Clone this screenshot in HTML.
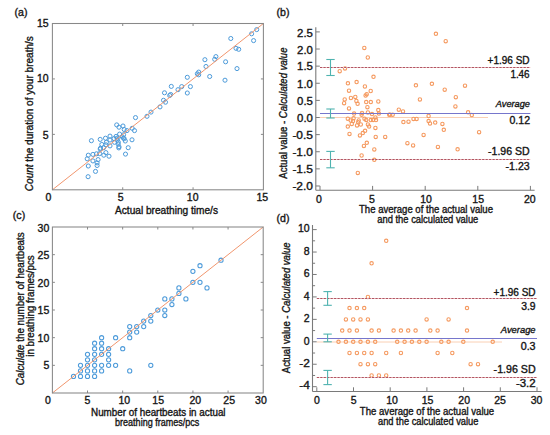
<!DOCTYPE html>
<html><head><meta charset="utf-8"><title>Figure</title>
<style>
html,body{margin:0;padding:0;background:#fff;}
body{width:550px;height:435px;overflow:hidden;}
svg{display:block;font-family:"Liberation Sans", sans-serif;}
text{stroke:#151515;stroke-width:0.35px;}
</style></head>
<body>
<svg width="550" height="435" viewBox="0 0 550 435" fill="#151515">
<rect width="550" height="435" fill="#ffffff"/>
<text x="21.00" y="16.00" font-size="10.6" text-anchor="middle">(a)</text>
<g fill="none" stroke="#4d9bda" stroke-width="1.0">
<circle cx="256.7" cy="29.6" r="2.05"/>
<circle cx="251.6" cy="33.8" r="2.05"/>
<circle cx="253.6" cy="40.6" r="2.05"/>
<circle cx="230.8" cy="38.5" r="2.05"/>
<circle cx="236.0" cy="48.3" r="2.05"/>
<circle cx="238.7" cy="49.3" r="2.05"/>
<circle cx="215.9" cy="56.6" r="2.05"/>
<circle cx="214.7" cy="59.3" r="2.05"/>
<circle cx="204.9" cy="59.7" r="2.05"/>
<circle cx="225.6" cy="61.8" r="2.05"/>
<circle cx="206.0" cy="66.5" r="2.05"/>
<circle cx="237.0" cy="68.6" r="2.05"/>
<circle cx="197.3" cy="73.8" r="2.05"/>
<circle cx="198.7" cy="72.1" r="2.05"/>
<circle cx="198.7" cy="74.8" r="2.05"/>
<circle cx="209.7" cy="76.5" r="2.05"/>
<circle cx="225.0" cy="80.2" r="2.05"/>
<circle cx="187.3" cy="77.3" r="2.05"/>
<circle cx="171.3" cy="86.4" r="2.05"/>
<circle cx="181.7" cy="86.6" r="2.05"/>
<circle cx="190.4" cy="86.6" r="2.05"/>
<circle cx="178.0" cy="89.7" r="2.05"/>
<circle cx="187.3" cy="93.0" r="2.05"/>
<circle cx="164.5" cy="92.8" r="2.05"/>
<circle cx="169.7" cy="95.5" r="2.05"/>
<circle cx="170.7" cy="94.5" r="2.05"/>
<circle cx="163.5" cy="100.3" r="2.05"/>
<circle cx="165.5" cy="102.2" r="2.05"/>
<circle cx="160.0" cy="106.9" r="2.05"/>
<circle cx="151.0" cy="112.1" r="2.05"/>
<circle cx="147.0" cy="116.3" r="2.05"/>
<circle cx="135.5" cy="117.6" r="2.05"/>
<circle cx="132.2" cy="128.3" r="2.05"/>
<circle cx="134.5" cy="130.6" r="2.05"/>
<circle cx="132.0" cy="139.8" r="2.05"/>
<circle cx="125.3" cy="141.0" r="2.05"/>
<circle cx="124.2" cy="138.7" r="2.05"/>
<circle cx="116.7" cy="124.9" r="2.05"/>
<circle cx="119.0" cy="127.2" r="2.05"/>
<circle cx="123.0" cy="126.0" r="2.05"/>
<circle cx="124.2" cy="129.5" r="2.05"/>
<circle cx="127.0" cy="130.6" r="2.05"/>
<circle cx="123.6" cy="134.7" r="2.05"/>
<circle cx="119.6" cy="134.1" r="2.05"/>
<circle cx="116.1" cy="136.4" r="2.05"/>
<circle cx="91.4" cy="140.7" r="2.05"/>
<circle cx="100.2" cy="139.4" r="2.05"/>
<circle cx="105.5" cy="138.2" r="2.05"/>
<circle cx="110.0" cy="136.1" r="2.05"/>
<circle cx="122.3" cy="136.8" r="2.05"/>
<circle cx="101.8" cy="144.5" r="2.05"/>
<circle cx="106.4" cy="142.3" r="2.05"/>
<circle cx="110.0" cy="140.0" r="2.05"/>
<circle cx="114.5" cy="142.3" r="2.05"/>
<circle cx="117.3" cy="140.0" r="2.05"/>
<circle cx="118.2" cy="144.1" r="2.05"/>
<circle cx="119.0" cy="146.8" r="2.05"/>
<circle cx="110.0" cy="145.9" r="2.05"/>
<circle cx="100.5" cy="148.2" r="2.05"/>
<circle cx="103.6" cy="147.7" r="2.05"/>
<circle cx="128.2" cy="147.7" r="2.05"/>
<circle cx="88.1" cy="176.7" r="2.05"/>
<circle cx="95.5" cy="171.4" r="2.05"/>
<circle cx="88.3" cy="166.0" r="2.05"/>
<circle cx="97.1" cy="165.5" r="2.05"/>
<circle cx="97.1" cy="162.9" r="2.05"/>
<circle cx="98.1" cy="159.6" r="2.05"/>
<circle cx="92.9" cy="160.9" r="2.05"/>
<circle cx="87.2" cy="158.8" r="2.05"/>
<circle cx="88.3" cy="155.2" r="2.05"/>
<circle cx="92.9" cy="154.4" r="2.05"/>
<circle cx="96.5" cy="153.8" r="2.05"/>
<circle cx="99.6" cy="153.6" r="2.05"/>
<circle cx="103.8" cy="155.2" r="2.05"/>
<circle cx="105.9" cy="152.6" r="2.05"/>
<circle cx="109.0" cy="156.2" r="2.05"/>
<circle cx="100.2" cy="149.0" r="2.05"/>
<circle cx="105.9" cy="144.8" r="2.05"/>
<circle cx="114.1" cy="138.6" r="2.05"/>
<circle cx="117.2" cy="138.1" r="2.05"/>
<circle cx="118.3" cy="142.2" r="2.05"/>
<circle cx="118.8" cy="147.9" r="2.05"/>
<circle cx="125.5" cy="154.1" r="2.05"/>
<circle cx="123.4" cy="138.1" r="2.05"/>
</g>
<line x1="52.40" y1="189.80" x2="263.40" y2="23.50" stroke="#f1966e" stroke-width="1.0"/>
<rect x="52.4" y="23.5" width="211.00" height="166.30" fill="none" stroke="#888" stroke-width="1.05"/>
<line x1="122.73" y1="189.80" x2="122.73" y2="187.30" stroke="#888" stroke-width="1.0"/>
<line x1="122.73" y1="23.50" x2="122.73" y2="26.00" stroke="#888" stroke-width="1.0"/>
<line x1="52.40" y1="134.37" x2="54.90" y2="134.37" stroke="#888" stroke-width="1.0"/>
<line x1="263.40" y1="134.37" x2="260.90" y2="134.37" stroke="#888" stroke-width="1.0"/>
<line x1="193.07" y1="189.80" x2="193.07" y2="187.30" stroke="#888" stroke-width="1.0"/>
<line x1="193.07" y1="23.50" x2="193.07" y2="26.00" stroke="#888" stroke-width="1.0"/>
<line x1="52.40" y1="78.93" x2="54.90" y2="78.93" stroke="#888" stroke-width="1.0"/>
<line x1="263.40" y1="78.93" x2="260.90" y2="78.93" stroke="#888" stroke-width="1.0"/>
<text x="48.30" y="201.20" font-size="10.5" text-anchor="middle">0</text>
<text x="120.70" y="201.20" font-size="10.5" text-anchor="middle">5</text>
<text x="192.70" y="201.20" font-size="10.5" text-anchor="middle">10</text>
<text x="262.30" y="201.20" font-size="10.5" text-anchor="middle">15</text>
<text x="48.60" y="26.60" font-size="10.5" text-anchor="end">15</text>
<text x="48.60" y="82.40" font-size="10.5" text-anchor="end">10</text>
<text x="48.60" y="138.60" font-size="10.5" text-anchor="end">5</text>
<text x="166.50" y="214.40" font-size="10" text-anchor="middle" textLength="103" lengthAdjust="spacingAndGlyphs">Actual breathing time/s</text>
<text x="33.40" y="113.70" font-size="10" text-anchor="middle" textLength="155" lengthAdjust="spacingAndGlyphs" transform="rotate(-90 33.40 113.70)"><tspan font-style="italic">Count</tspan> the duration of your breath/s</text>
<text x="19.00" y="219.40" font-size="10.6" text-anchor="middle">(c)</text>
<g fill="none" stroke="#4d9bda" stroke-width="1.05">
<circle cx="73.5" cy="376.4" r="2.1"/>
<circle cx="80.5" cy="376.4" r="2.1"/>
<circle cx="80.5" cy="370.9" r="2.1"/>
<circle cx="80.5" cy="365.3" r="2.1"/>
<circle cx="87.5" cy="376.4" r="2.1"/>
<circle cx="87.5" cy="370.9" r="2.1"/>
<circle cx="87.5" cy="365.3" r="2.1"/>
<circle cx="87.5" cy="359.8" r="2.1"/>
<circle cx="87.5" cy="354.3" r="2.1"/>
<circle cx="94.6" cy="376.4" r="2.1"/>
<circle cx="94.6" cy="370.9" r="2.1"/>
<circle cx="94.6" cy="365.3" r="2.1"/>
<circle cx="94.6" cy="359.8" r="2.1"/>
<circle cx="94.6" cy="354.3" r="2.1"/>
<circle cx="94.6" cy="348.7" r="2.1"/>
<circle cx="94.6" cy="343.2" r="2.1"/>
<circle cx="101.6" cy="370.9" r="2.1"/>
<circle cx="101.6" cy="365.3" r="2.1"/>
<circle cx="101.6" cy="354.3" r="2.1"/>
<circle cx="101.6" cy="348.7" r="2.1"/>
<circle cx="101.6" cy="343.2" r="2.1"/>
<circle cx="101.6" cy="337.7" r="2.1"/>
<circle cx="108.6" cy="365.3" r="2.1"/>
<circle cx="108.6" cy="359.8" r="2.1"/>
<circle cx="108.6" cy="354.3" r="2.1"/>
<circle cx="108.6" cy="348.7" r="2.1"/>
<circle cx="115.6" cy="365.3" r="2.1"/>
<circle cx="115.6" cy="337.7" r="2.1"/>
<circle cx="122.7" cy="348.7" r="2.1"/>
<circle cx="129.7" cy="370.9" r="2.1"/>
<circle cx="129.7" cy="337.7" r="2.1"/>
<circle cx="129.7" cy="332.1" r="2.1"/>
<circle cx="129.7" cy="326.6" r="2.1"/>
<circle cx="136.7" cy="332.1" r="2.1"/>
<circle cx="136.7" cy="326.6" r="2.1"/>
<circle cx="143.7" cy="326.6" r="2.1"/>
<circle cx="143.7" cy="321.1" r="2.1"/>
<circle cx="150.8" cy="321.1" r="2.1"/>
<circle cx="150.8" cy="315.5" r="2.1"/>
<circle cx="150.8" cy="365.3" r="2.1"/>
<circle cx="157.8" cy="310.0" r="2.1"/>
<circle cx="164.8" cy="315.5" r="2.1"/>
<circle cx="164.8" cy="310.0" r="2.1"/>
<circle cx="164.8" cy="298.9" r="2.1"/>
<circle cx="171.9" cy="304.5" r="2.1"/>
<circle cx="171.9" cy="298.9" r="2.1"/>
<circle cx="178.9" cy="293.4" r="2.1"/>
<circle cx="178.9" cy="287.9" r="2.1"/>
<circle cx="185.9" cy="298.9" r="2.1"/>
<circle cx="192.9" cy="282.3" r="2.1"/>
<circle cx="192.9" cy="271.3" r="2.1"/>
<circle cx="200.0" cy="282.3" r="2.1"/>
<circle cx="200.0" cy="265.7" r="2.1"/>
<circle cx="207.0" cy="287.9" r="2.1"/>
<circle cx="221.0" cy="260.2" r="2.1"/>
</g>
<line x1="52.40" y1="393.00" x2="263.20" y2="227.00" stroke="#f1966e" stroke-width="1.0"/>
<rect x="52.4" y="227.0" width="210.80" height="166.00" fill="none" stroke="#888" stroke-width="1.05"/>
<line x1="87.53" y1="393.00" x2="87.53" y2="390.50" stroke="#888" stroke-width="1.0"/>
<line x1="87.53" y1="227.00" x2="87.53" y2="229.50" stroke="#888" stroke-width="1.0"/>
<line x1="52.40" y1="365.33" x2="54.90" y2="365.33" stroke="#888" stroke-width="1.0"/>
<line x1="263.20" y1="365.33" x2="260.70" y2="365.33" stroke="#888" stroke-width="1.0"/>
<line x1="122.67" y1="393.00" x2="122.67" y2="390.50" stroke="#888" stroke-width="1.0"/>
<line x1="122.67" y1="227.00" x2="122.67" y2="229.50" stroke="#888" stroke-width="1.0"/>
<line x1="52.40" y1="337.67" x2="54.90" y2="337.67" stroke="#888" stroke-width="1.0"/>
<line x1="263.20" y1="337.67" x2="260.70" y2="337.67" stroke="#888" stroke-width="1.0"/>
<line x1="157.80" y1="393.00" x2="157.80" y2="390.50" stroke="#888" stroke-width="1.0"/>
<line x1="157.80" y1="227.00" x2="157.80" y2="229.50" stroke="#888" stroke-width="1.0"/>
<line x1="52.40" y1="310.00" x2="54.90" y2="310.00" stroke="#888" stroke-width="1.0"/>
<line x1="263.20" y1="310.00" x2="260.70" y2="310.00" stroke="#888" stroke-width="1.0"/>
<line x1="192.93" y1="393.00" x2="192.93" y2="390.50" stroke="#888" stroke-width="1.0"/>
<line x1="192.93" y1="227.00" x2="192.93" y2="229.50" stroke="#888" stroke-width="1.0"/>
<line x1="52.40" y1="282.33" x2="54.90" y2="282.33" stroke="#888" stroke-width="1.0"/>
<line x1="263.20" y1="282.33" x2="260.70" y2="282.33" stroke="#888" stroke-width="1.0"/>
<line x1="228.07" y1="393.00" x2="228.07" y2="390.50" stroke="#888" stroke-width="1.0"/>
<line x1="228.07" y1="227.00" x2="228.07" y2="229.50" stroke="#888" stroke-width="1.0"/>
<line x1="52.40" y1="254.67" x2="54.90" y2="254.67" stroke="#888" stroke-width="1.0"/>
<line x1="263.20" y1="254.67" x2="260.70" y2="254.67" stroke="#888" stroke-width="1.0"/>
<text x="47.80" y="404.20" font-size="10.5" text-anchor="middle">0</text>
<text x="87.30" y="404.20" font-size="10.5" text-anchor="middle">5</text>
<text x="124.30" y="404.20" font-size="10.5" text-anchor="middle">10</text>
<text x="158.20" y="404.20" font-size="10.5" text-anchor="middle">15</text>
<text x="195.30" y="404.20" font-size="10.5" text-anchor="middle">20</text>
<text x="229.20" y="404.20" font-size="10.5" text-anchor="middle">25</text>
<text x="260.90" y="404.20" font-size="10.5" text-anchor="middle">30</text>
<text x="49.30" y="369.23" font-size="10.5" text-anchor="end">5</text>
<text x="49.30" y="341.57" font-size="10.5" text-anchor="end">10</text>
<text x="49.30" y="313.90" font-size="10.5" text-anchor="end">15</text>
<text x="49.30" y="286.83" font-size="10.5" text-anchor="end">20</text>
<text x="49.30" y="259.17" font-size="10.5" text-anchor="end">25</text>
<text x="49.30" y="231.50" font-size="10.5" text-anchor="end">30</text>
<text x="158.30" y="415.60" font-size="10" text-anchor="middle" textLength="134.5" lengthAdjust="spacingAndGlyphs">Number of heartbeats in actual</text>
<text x="157.20" y="425.90" font-size="10" text-anchor="middle" textLength="84.3" lengthAdjust="spacingAndGlyphs">breathing frames/pcs</text>
<text x="23.80" y="308.80" font-size="10" text-anchor="middle" textLength="153" lengthAdjust="spacingAndGlyphs" transform="rotate(-90 23.80 308.80)"><tspan font-style="italic">Calculate</tspan> the number of heartbeats</text>
<text x="34.00" y="306.00" font-size="10" text-anchor="middle" textLength="101.5" lengthAdjust="spacingAndGlyphs" transform="rotate(-90 34.00 306.00)">in breathing frames/pcs</text>
<text x="283.00" y="16.00" font-size="10.6" text-anchor="middle">(b)</text>
<line x1="320.00" y1="117.50" x2="488.00" y2="117.50" stroke="#fad0b4" stroke-width="1.0"/>
<g fill="none" stroke="#f59a60" stroke-width="1.1">
<circle cx="364.3" cy="47.9" r="1.7"/>
<circle cx="367.8" cy="57.5" r="1.7"/>
<circle cx="339.7" cy="71.2" r="1.7"/>
<circle cx="345.0" cy="68.4" r="1.7"/>
<circle cx="373.5" cy="76.8" r="1.7"/>
<circle cx="347.9" cy="83.3" r="1.7"/>
<circle cx="356.6" cy="82.1" r="1.7"/>
<circle cx="364.9" cy="86.5" r="1.7"/>
<circle cx="349.0" cy="90.7" r="1.7"/>
<circle cx="370.7" cy="91.0" r="1.7"/>
<circle cx="366.7" cy="94.2" r="1.7"/>
<circle cx="365.6" cy="95.6" r="1.7"/>
<circle cx="344.7" cy="99.4" r="1.7"/>
<circle cx="344.1" cy="103.2" r="1.7"/>
<circle cx="350.9" cy="98.0" r="1.7"/>
<circle cx="355.3" cy="96.9" r="1.7"/>
<circle cx="356.4" cy="100.9" r="1.7"/>
<circle cx="357.6" cy="103.8" r="1.7"/>
<circle cx="366.2" cy="102.1" r="1.7"/>
<circle cx="370.8" cy="102.1" r="1.7"/>
<circle cx="378.3" cy="101.5" r="1.7"/>
<circle cx="349.0" cy="108.4" r="1.7"/>
<circle cx="367.4" cy="107.2" r="1.7"/>
<circle cx="378.3" cy="110.1" r="1.7"/>
<circle cx="354.1" cy="113.6" r="1.7"/>
<circle cx="362.0" cy="113.0" r="1.7"/>
<circle cx="361.6" cy="114.7" r="1.7"/>
<circle cx="367.9" cy="112.4" r="1.7"/>
<circle cx="372.0" cy="114.1" r="1.7"/>
<circle cx="378.9" cy="113.6" r="1.7"/>
<circle cx="389.2" cy="114.7" r="1.7"/>
<circle cx="347.8" cy="118.7" r="1.7"/>
<circle cx="350.7" cy="120.5" r="1.7"/>
<circle cx="353.6" cy="118.2" r="1.7"/>
<circle cx="353.0" cy="121.0" r="1.7"/>
<circle cx="358.7" cy="120.5" r="1.7"/>
<circle cx="358.2" cy="122.2" r="1.7"/>
<circle cx="364.5" cy="118.7" r="1.7"/>
<circle cx="366.2" cy="119.9" r="1.7"/>
<circle cx="370.8" cy="120.1" r="1.7"/>
<circle cx="373.1" cy="119.9" r="1.7"/>
<circle cx="376.0" cy="120.1" r="1.7"/>
<circle cx="375.4" cy="117.4" r="1.7"/>
<circle cx="351.8" cy="123.9" r="1.7"/>
<circle cx="347.8" cy="126.6" r="1.7"/>
<circle cx="357.0" cy="125.4" r="1.7"/>
<circle cx="360.8" cy="124.5" r="1.7"/>
<circle cx="367.9" cy="124.5" r="1.7"/>
<circle cx="369.1" cy="126.6" r="1.7"/>
<circle cx="375.4" cy="127.9" r="1.7"/>
<circle cx="365.1" cy="130.8" r="1.7"/>
<circle cx="362.8" cy="133.1" r="1.7"/>
<circle cx="359.9" cy="135.4" r="1.7"/>
<circle cx="349.5" cy="133.9" r="1.7"/>
<circle cx="375.7" cy="136.9" r="1.7"/>
<circle cx="385.2" cy="136.9" r="1.7"/>
<circle cx="366.8" cy="142.8" r="1.7"/>
<circle cx="363.9" cy="145.9" r="1.7"/>
<circle cx="374.3" cy="149.4" r="1.7"/>
<circle cx="361.6" cy="155.5" r="1.7"/>
<circle cx="374.3" cy="159.8" r="1.7"/>
<circle cx="357.8" cy="172.9" r="1.7"/>
<circle cx="435.9" cy="33.8" r="1.7"/>
<circle cx="445.7" cy="41.2" r="1.7"/>
<circle cx="415.9" cy="85.3" r="1.7"/>
<circle cx="431.9" cy="83.8" r="1.7"/>
<circle cx="444.7" cy="89.7" r="1.7"/>
<circle cx="465.0" cy="85.7" r="1.7"/>
<circle cx="419.9" cy="99.4" r="1.7"/>
<circle cx="455.8" cy="97.2" r="1.7"/>
<circle cx="398.8" cy="109.7" r="1.7"/>
<circle cx="403.0" cy="111.4" r="1.7"/>
<circle cx="390.1" cy="114.7" r="1.7"/>
<circle cx="392.7" cy="114.7" r="1.7"/>
<circle cx="455.4" cy="106.4" r="1.7"/>
<circle cx="468.1" cy="112.3" r="1.7"/>
<circle cx="471.8" cy="115.1" r="1.7"/>
<circle cx="428.6" cy="116.0" r="1.7"/>
<circle cx="413.5" cy="118.9" r="1.7"/>
<circle cx="416.6" cy="118.9" r="1.7"/>
<circle cx="403.4" cy="122.1" r="1.7"/>
<circle cx="408.5" cy="121.7" r="1.7"/>
<circle cx="428.6" cy="121.1" r="1.7"/>
<circle cx="430.0" cy="123.5" r="1.7"/>
<circle cx="435.2" cy="122.6" r="1.7"/>
<circle cx="442.4" cy="123.9" r="1.7"/>
<circle cx="443.8" cy="129.8" r="1.7"/>
<circle cx="423.6" cy="134.9" r="1.7"/>
<circle cx="479.1" cy="132.2" r="1.7"/>
<circle cx="407.4" cy="143.2" r="1.7"/>
<circle cx="413.1" cy="145.4" r="1.7"/>
<circle cx="437.9" cy="146.9" r="1.7"/>
<circle cx="457.6" cy="149.3" r="1.7"/>
</g>
<line x1="320.00" y1="113.50" x2="530.40" y2="113.50" stroke="#7676cc" stroke-width="1.1"/>
<line x1="320.00" y1="67.50" x2="530.40" y2="67.50" stroke="#f2cccc" stroke-width="1.0"/>
<line x1="320.00" y1="67.50" x2="530.40" y2="67.50" stroke="#b05462" stroke-width="1.0" stroke-dasharray="2.2 1.25"/>
<line x1="320.00" y1="159.50" x2="530.40" y2="159.50" stroke="#f2cccc" stroke-width="1.0"/>
<line x1="320.00" y1="159.50" x2="530.40" y2="159.50" stroke="#b05462" stroke-width="1.0" stroke-dasharray="2.2 1.25"/>
<line x1="330.50" y1="59.50" x2="330.50" y2="75.50" stroke="#4fb3b0" stroke-width="1.1"/>
<line x1="326.30" y1="59.50" x2="334.70" y2="59.50" stroke="#4fb3b0" stroke-width="1.1"/>
<line x1="326.30" y1="75.50" x2="334.70" y2="75.50" stroke="#4fb3b0" stroke-width="1.1"/>
<line x1="330.50" y1="109.00" x2="330.50" y2="118.00" stroke="#4fb3b0" stroke-width="1.1"/>
<line x1="326.30" y1="109.00" x2="334.70" y2="109.00" stroke="#4fb3b0" stroke-width="1.1"/>
<line x1="326.30" y1="118.00" x2="334.70" y2="118.00" stroke="#4fb3b0" stroke-width="1.1"/>
<line x1="330.50" y1="151.40" x2="330.50" y2="167.80" stroke="#4fb3b0" stroke-width="1.1"/>
<line x1="326.30" y1="151.40" x2="334.70" y2="151.40" stroke="#4fb3b0" stroke-width="1.1"/>
<line x1="326.30" y1="167.80" x2="334.70" y2="167.80" stroke="#4fb3b0" stroke-width="1.1"/>
<line x1="315.80" y1="27.20" x2="315.80" y2="190.20" stroke="#7a7a7a" stroke-width="1.1"/>
<line x1="315.80" y1="190.20" x2="534.60" y2="190.20" stroke="#7a7a7a" stroke-width="1.1"/>
<line x1="315.80" y1="31.90" x2="319.80" y2="31.90" stroke="#7a7a7a" stroke-width="1.0"/>
<text x="312.90" y="36.70" font-size="10.5" text-anchor="end" textLength="15.8" lengthAdjust="spacingAndGlyphs">2.5</text>
<line x1="315.80" y1="49.02" x2="319.80" y2="49.02" stroke="#7a7a7a" stroke-width="1.0"/>
<text x="312.90" y="53.82" font-size="10.5" text-anchor="end" textLength="15.8" lengthAdjust="spacingAndGlyphs">2.0</text>
<line x1="315.80" y1="66.14" x2="319.80" y2="66.14" stroke="#7a7a7a" stroke-width="1.0"/>
<text x="312.90" y="70.44" font-size="10.5" text-anchor="end" textLength="15.8" lengthAdjust="spacingAndGlyphs">1.5</text>
<line x1="315.80" y1="83.26" x2="319.80" y2="83.26" stroke="#7a7a7a" stroke-width="1.0"/>
<text x="312.90" y="87.56" font-size="10.5" text-anchor="end" textLength="15.8" lengthAdjust="spacingAndGlyphs">1.0</text>
<line x1="315.80" y1="100.38" x2="319.80" y2="100.38" stroke="#7a7a7a" stroke-width="1.0"/>
<text x="312.90" y="104.68" font-size="10.5" text-anchor="end" textLength="15.8" lengthAdjust="spacingAndGlyphs">0.5</text>
<line x1="315.80" y1="117.50" x2="319.80" y2="117.50" stroke="#7a7a7a" stroke-width="1.0"/>
<text x="312.90" y="121.80" font-size="10.5" text-anchor="end" textLength="15.8" lengthAdjust="spacingAndGlyphs">0.0</text>
<line x1="315.80" y1="134.62" x2="319.80" y2="134.62" stroke="#7a7a7a" stroke-width="1.0"/>
<text x="313.00" y="138.82" font-size="10.5" text-anchor="end" textLength="20.6" lengthAdjust="spacingAndGlyphs">-0.5</text>
<line x1="315.80" y1="151.74" x2="319.80" y2="151.74" stroke="#7a7a7a" stroke-width="1.0"/>
<text x="313.00" y="155.94" font-size="10.5" text-anchor="end" textLength="20.6" lengthAdjust="spacingAndGlyphs">-1.0</text>
<line x1="315.80" y1="168.86" x2="319.80" y2="168.86" stroke="#7a7a7a" stroke-width="1.0"/>
<text x="313.00" y="173.06" font-size="10.5" text-anchor="end" textLength="20.6" lengthAdjust="spacingAndGlyphs">-1.5</text>
<line x1="315.80" y1="185.98" x2="319.80" y2="185.98" stroke="#7a7a7a" stroke-width="1.0"/>
<text x="313.00" y="190.18" font-size="10.5" text-anchor="end" textLength="20.6" lengthAdjust="spacingAndGlyphs">-2.0</text>
<line x1="320.00" y1="190.20" x2="320.00" y2="185.90" stroke="#7a7a7a" stroke-width="1.0"/>
<line x1="372.60" y1="190.20" x2="372.60" y2="185.90" stroke="#7a7a7a" stroke-width="1.0"/>
<line x1="425.20" y1="190.20" x2="425.20" y2="185.90" stroke="#7a7a7a" stroke-width="1.0"/>
<line x1="477.80" y1="190.20" x2="477.80" y2="185.90" stroke="#7a7a7a" stroke-width="1.0"/>
<line x1="530.40" y1="190.20" x2="530.40" y2="185.90" stroke="#7a7a7a" stroke-width="1.0"/>
<text x="318.80" y="203.20" font-size="10.5" text-anchor="middle">0</text>
<text x="372.00" y="203.20" font-size="10.5" text-anchor="middle">5</text>
<text x="426.00" y="203.20" font-size="10.5" text-anchor="middle">10</text>
<text x="478.20" y="203.20" font-size="10.5" text-anchor="middle">15</text>
<text x="529.80" y="203.20" font-size="10.5" text-anchor="middle">20</text>
<text x="529.60" y="63.90" font-size="10" text-anchor="end" textLength="42.0" lengthAdjust="spacingAndGlyphs">+1.96 SD</text>
<text x="529.60" y="77.60" font-size="10" text-anchor="end" textLength="19.2" lengthAdjust="spacingAndGlyphs">1.46</text>
<text x="530.00" y="107.30" font-size="9.2" text-anchor="end" font-style="italic" textLength="34.2" lengthAdjust="spacingAndGlyphs">Average</text>
<text x="530.00" y="124.30" font-size="10" text-anchor="end" textLength="20.5" lengthAdjust="spacingAndGlyphs">0.12</text>
<text x="529.60" y="155.40" font-size="10" text-anchor="end" textLength="41.5" lengthAdjust="spacingAndGlyphs">-1.96 SD</text>
<text x="529.60" y="169.80" font-size="10" text-anchor="end" textLength="24.0" lengthAdjust="spacingAndGlyphs">-1.23</text>
<text x="426.00" y="213.20" font-size="10" text-anchor="middle" textLength="134" lengthAdjust="spacingAndGlyphs">The average of the actual value</text>
<text x="427.80" y="223.30" font-size="10" text-anchor="middle" textLength="101" lengthAdjust="spacingAndGlyphs">and the calculated value</text>
<text x="287.50" y="113.10" font-size="10" text-anchor="middle" textLength="131.2" lengthAdjust="spacingAndGlyphs" transform="rotate(-90 287.50 113.10)">Actual value - <tspan font-style="italic">Calculated value</tspan></text>
<text x="283.00" y="222.30" font-size="10.6" text-anchor="middle">(d)</text>
<line x1="316.80" y1="342.00" x2="502.00" y2="342.00" stroke="#fad0b4" stroke-width="1.0"/>
<g fill="none" stroke="#f59a60" stroke-width="1.1">
<circle cx="386.2" cy="240.8" r="1.7"/>
<circle cx="371.6" cy="263.3" r="1.7"/>
<circle cx="367.9" cy="296.9" r="1.7"/>
<circle cx="349.5" cy="308.1" r="1.7"/>
<circle cx="356.9" cy="308.1" r="1.7"/>
<circle cx="364.2" cy="308.1" r="1.7"/>
<circle cx="467.0" cy="308.1" r="1.7"/>
<circle cx="345.9" cy="319.4" r="1.7"/>
<circle cx="353.2" cy="319.4" r="1.7"/>
<circle cx="360.5" cy="319.4" r="1.7"/>
<circle cx="367.9" cy="319.4" r="1.7"/>
<circle cx="426.6" cy="319.4" r="1.7"/>
<circle cx="448.6" cy="319.4" r="1.7"/>
<circle cx="342.2" cy="330.6" r="1.7"/>
<circle cx="349.5" cy="330.6" r="1.7"/>
<circle cx="356.9" cy="330.6" r="1.7"/>
<circle cx="371.6" cy="330.6" r="1.7"/>
<circle cx="378.9" cy="330.6" r="1.7"/>
<circle cx="393.6" cy="330.6" r="1.7"/>
<circle cx="400.9" cy="330.6" r="1.7"/>
<circle cx="408.2" cy="330.6" r="1.7"/>
<circle cx="415.6" cy="330.6" r="1.7"/>
<circle cx="430.3" cy="330.6" r="1.7"/>
<circle cx="437.6" cy="330.6" r="1.7"/>
<circle cx="467.0" cy="330.6" r="1.7"/>
<circle cx="338.5" cy="341.8" r="1.7"/>
<circle cx="345.9" cy="341.8" r="1.7"/>
<circle cx="353.2" cy="341.8" r="1.7"/>
<circle cx="360.5" cy="341.8" r="1.7"/>
<circle cx="367.9" cy="341.8" r="1.7"/>
<circle cx="375.2" cy="341.8" r="1.7"/>
<circle cx="397.2" cy="341.8" r="1.7"/>
<circle cx="404.6" cy="341.8" r="1.7"/>
<circle cx="411.9" cy="341.8" r="1.7"/>
<circle cx="419.3" cy="341.8" r="1.7"/>
<circle cx="426.6" cy="341.8" r="1.7"/>
<circle cx="441.3" cy="341.8" r="1.7"/>
<circle cx="448.6" cy="341.8" r="1.7"/>
<circle cx="463.3" cy="341.8" r="1.7"/>
<circle cx="492.7" cy="341.8" r="1.7"/>
<circle cx="349.5" cy="353.0" r="1.7"/>
<circle cx="356.9" cy="353.0" r="1.7"/>
<circle cx="364.2" cy="353.0" r="1.7"/>
<circle cx="371.6" cy="353.0" r="1.7"/>
<circle cx="386.2" cy="353.0" r="1.7"/>
<circle cx="400.9" cy="353.0" r="1.7"/>
<circle cx="437.6" cy="353.0" r="1.7"/>
<circle cx="452.3" cy="353.0" r="1.7"/>
<circle cx="360.5" cy="364.2" r="1.7"/>
<circle cx="367.9" cy="364.2" r="1.7"/>
<circle cx="375.2" cy="364.2" r="1.7"/>
<circle cx="470.6" cy="364.2" r="1.7"/>
<circle cx="478.0" cy="364.2" r="1.7"/>
<circle cx="371.6" cy="375.5" r="1.7"/>
<circle cx="378.9" cy="375.5" r="1.7"/>
<circle cx="386.2" cy="375.5" r="1.7"/>
</g>
<line x1="316.80" y1="338.50" x2="537.00" y2="338.50" stroke="#7676cc" stroke-width="1.1"/>
<line x1="316.80" y1="298.50" x2="537.00" y2="298.50" stroke="#f2cccc" stroke-width="1.0"/>
<line x1="316.80" y1="298.50" x2="537.00" y2="298.50" stroke="#b05462" stroke-width="1.0" stroke-dasharray="2.2 1.25"/>
<line x1="316.80" y1="377.50" x2="537.00" y2="377.50" stroke="#f2cccc" stroke-width="1.0"/>
<line x1="316.80" y1="377.50" x2="537.00" y2="377.50" stroke="#b05462" stroke-width="1.0" stroke-dasharray="2.2 1.25"/>
<line x1="327.60" y1="291.60" x2="327.60" y2="305.30" stroke="#4fb3b0" stroke-width="1.1"/>
<line x1="323.40" y1="291.60" x2="331.80" y2="291.60" stroke="#4fb3b0" stroke-width="1.1"/>
<line x1="323.40" y1="305.30" x2="331.80" y2="305.30" stroke="#4fb3b0" stroke-width="1.1"/>
<line x1="327.60" y1="334.10" x2="327.60" y2="341.80" stroke="#4fb3b0" stroke-width="1.1"/>
<line x1="323.40" y1="334.10" x2="331.80" y2="334.10" stroke="#4fb3b0" stroke-width="1.1"/>
<line x1="323.40" y1="341.80" x2="331.80" y2="341.80" stroke="#4fb3b0" stroke-width="1.1"/>
<line x1="327.60" y1="370.40" x2="327.60" y2="384.60" stroke="#4fb3b0" stroke-width="1.1"/>
<line x1="323.40" y1="370.40" x2="331.80" y2="370.40" stroke="#4fb3b0" stroke-width="1.1"/>
<line x1="323.40" y1="384.60" x2="331.80" y2="384.60" stroke="#4fb3b0" stroke-width="1.1"/>
<line x1="312.50" y1="225.00" x2="312.50" y2="391.50" stroke="#7a7a7a" stroke-width="1.1"/>
<line x1="312.50" y1="391.50" x2="541.60" y2="391.50" stroke="#7a7a7a" stroke-width="1.1"/>
<line x1="312.50" y1="386.68" x2="316.70" y2="386.68" stroke="#7a7a7a" stroke-width="1.0"/>
<text x="309.80" y="389.28" font-size="10.5" text-anchor="end" textLength="10.6" lengthAdjust="spacingAndGlyphs">-4</text>
<line x1="312.50" y1="375.46" x2="315.10" y2="375.46" stroke="#7a7a7a" stroke-width="1.0"/>
<line x1="312.50" y1="364.24" x2="316.70" y2="364.24" stroke="#7a7a7a" stroke-width="1.0"/>
<text x="309.80" y="366.84" font-size="10.5" text-anchor="end" textLength="10.6" lengthAdjust="spacingAndGlyphs">-2</text>
<line x1="312.50" y1="353.02" x2="315.10" y2="353.02" stroke="#7a7a7a" stroke-width="1.0"/>
<line x1="312.50" y1="341.80" x2="316.70" y2="341.80" stroke="#7a7a7a" stroke-width="1.0"/>
<text x="309.60" y="344.50" font-size="10.5" text-anchor="end">0</text>
<line x1="312.50" y1="330.58" x2="315.10" y2="330.58" stroke="#7a7a7a" stroke-width="1.0"/>
<line x1="312.50" y1="319.36" x2="316.70" y2="319.36" stroke="#7a7a7a" stroke-width="1.0"/>
<text x="309.60" y="322.06" font-size="10.5" text-anchor="end">2</text>
<line x1="312.50" y1="308.14" x2="315.10" y2="308.14" stroke="#7a7a7a" stroke-width="1.0"/>
<line x1="312.50" y1="296.92" x2="316.70" y2="296.92" stroke="#7a7a7a" stroke-width="1.0"/>
<text x="309.60" y="299.62" font-size="10.5" text-anchor="end">4</text>
<line x1="312.50" y1="285.70" x2="315.10" y2="285.70" stroke="#7a7a7a" stroke-width="1.0"/>
<line x1="312.50" y1="274.48" x2="316.70" y2="274.48" stroke="#7a7a7a" stroke-width="1.0"/>
<text x="309.60" y="277.18" font-size="10.5" text-anchor="end">6</text>
<line x1="312.50" y1="263.26" x2="315.10" y2="263.26" stroke="#7a7a7a" stroke-width="1.0"/>
<line x1="312.50" y1="252.04" x2="316.70" y2="252.04" stroke="#7a7a7a" stroke-width="1.0"/>
<text x="309.60" y="254.74" font-size="10.5" text-anchor="end">8</text>
<line x1="312.50" y1="240.82" x2="315.10" y2="240.82" stroke="#7a7a7a" stroke-width="1.0"/>
<line x1="312.50" y1="229.60" x2="316.70" y2="229.60" stroke="#7a7a7a" stroke-width="1.0"/>
<text x="309.60" y="232.30" font-size="10.5" text-anchor="end">10</text>
<line x1="316.80" y1="391.50" x2="316.80" y2="387.30" stroke="#7a7a7a" stroke-width="1.0"/>
<line x1="353.50" y1="391.50" x2="353.50" y2="387.30" stroke="#7a7a7a" stroke-width="1.0"/>
<line x1="390.20" y1="391.50" x2="390.20" y2="387.30" stroke="#7a7a7a" stroke-width="1.0"/>
<line x1="426.90" y1="391.50" x2="426.90" y2="387.30" stroke="#7a7a7a" stroke-width="1.0"/>
<line x1="463.60" y1="391.50" x2="463.60" y2="387.30" stroke="#7a7a7a" stroke-width="1.0"/>
<line x1="500.30" y1="391.50" x2="500.30" y2="387.30" stroke="#7a7a7a" stroke-width="1.0"/>
<line x1="537.00" y1="391.50" x2="537.00" y2="387.30" stroke="#7a7a7a" stroke-width="1.0"/>
<text x="317.00" y="404.20" font-size="10.5" text-anchor="middle">0</text>
<text x="353.70" y="404.20" font-size="10.5" text-anchor="middle">5</text>
<text x="392.10" y="404.20" font-size="10.5" text-anchor="middle">10</text>
<text x="427.50" y="404.20" font-size="10.5" text-anchor="middle">15</text>
<text x="464.20" y="404.20" font-size="10.5" text-anchor="middle">20</text>
<text x="500.00" y="404.20" font-size="10.5" text-anchor="middle">25</text>
<text x="536.50" y="404.20" font-size="10.5" text-anchor="middle">30</text>
<text x="535.60" y="295.90" font-size="10" text-anchor="end" textLength="42.0" lengthAdjust="spacingAndGlyphs">+1.96 SD</text>
<text x="535.60" y="309.60" font-size="10" text-anchor="end" textLength="14.4" lengthAdjust="spacingAndGlyphs">3.9</text>
<text x="535.60" y="333.20" font-size="9.2" text-anchor="end" font-style="italic" textLength="34.8" lengthAdjust="spacingAndGlyphs">Average</text>
<text x="535.60" y="350.00" font-size="10" text-anchor="end" textLength="14.9" lengthAdjust="spacingAndGlyphs">0.3</text>
<text x="535.60" y="372.90" font-size="10" text-anchor="end" textLength="42.0" lengthAdjust="spacingAndGlyphs">-1.96 SD</text>
<text x="535.60" y="387.00" font-size="10" text-anchor="end" textLength="19.7" lengthAdjust="spacingAndGlyphs">-3.2</text>
<text x="427.00" y="414.80" font-size="10" text-anchor="middle" textLength="134.4" lengthAdjust="spacingAndGlyphs">The average of the actual value</text>
<text x="428.20" y="424.60" font-size="10" text-anchor="middle" textLength="100.4" lengthAdjust="spacingAndGlyphs">and the calculated value</text>
<text x="290.50" y="307.80" font-size="10" text-anchor="middle" textLength="130.8" lengthAdjust="spacingAndGlyphs" transform="rotate(-90 290.50 307.80)">Actual value - <tspan font-style="italic">Calculated value</tspan></text>
</svg>
</body></html>
